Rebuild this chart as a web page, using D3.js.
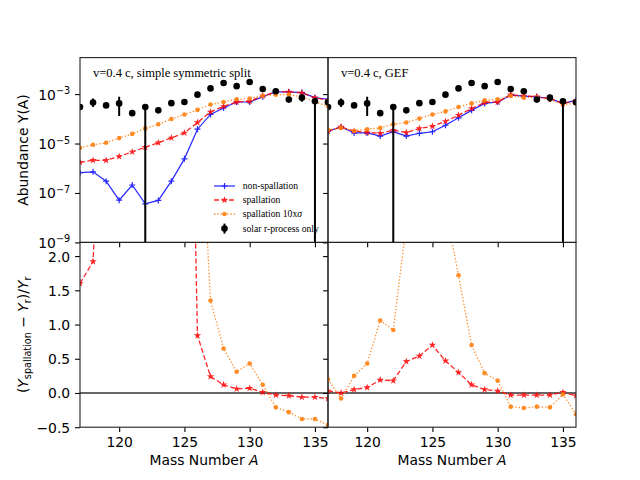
<!DOCTYPE html>
<html>
<head>
<meta charset="utf-8">
<script src="https://cdn.jsdelivr.net/npm/d3@7"></script>
<style>
  body { margin: 0; background: #fff; }
  svg { display: block; }
</style>
</head>
<body>
<svg id="chart" width="640" height="480"></svg>
<script>
/*
 * Abundances around the A=130 peak, with and without spallation,
 * for two fission fragment models.
 */

var massNumbers = [117, 118, 119, 120, 121, 122, 123, 124, 125, 126, 127, 128, 129, 130, 131, 132, 133, 134, 135, 136];

// solar r-process, with the limits of each error bar (0 = bar runs off the bottom)
var solarAbundance = [3.0e-4, 4.6e-4, 3.5e-4, 4.2e-4, 1.7e-4, 3.0e-4, 2.2e-4, 4.3e-4, 4.8e-4, 9.5e-4, 1.7e-3, 2.8e-3, 2.1e-3, 3.1e-3, 1.6e-3, 1.3e-3, 6.0e-4, 7.2e-4, 5.1e-4, 4.7e-4];
var solarLow = [2.7e-4, 3.0e-4, 3.1e-4, 1.3e-4, 1.3e-4, 0, 2.0e-4, 4.0e-4, 4.4e-4, 9.0e-4, 1.6e-3, 2.7e-3, 2.0e-3, 3.0e-3, 1.5e-3, 1.1e-3, 5.6e-4, 4.9e-4, 0, 4.4e-4];
var solarHigh = [3.3e-4, 6.6e-4, 4.0e-4, 7.8e-4, 2.0e-4, 3.6e-4, 2.4e-4, 4.6e-4, 5.2e-4, 1.0e-3, 1.8e-3, 2.9e-3, 2.2e-3, 3.2e-3, 1.7e-3, 1.5e-3, 6.4e-4, 9.5e-4, 6.3e-4, 5.0e-4];

// simple symmetric split
var splitNonSpallation = [6.6e-7, 7.2e-7, 3.0e-7, 5.1e-8, 2.1e-7, 3.6e-8, 5.0e-8, 3.0e-7, 2.4e-6, 3.8e-5, 1.5e-4, 2.75e-4, 4.8e-4, 4.8e-4, 7.8e-4, 1.23e-3, 1.23e-3, 1.15e-3, 7.2e-4, 6.2e-4];
var splitSpallation = [1.74e-6, 2.1e-6, 2.1e-6, 3.0e-6, 4.6e-6, 7.1e-6, 1.07e-5, 1.7e-5, 2.7e-5, 7.1e-5, 1.9e-4, 3.2e-4, 4.8e-4, 5.1e-4, 8.5e-4, 1.23e-3, 1.23e-3, 1.12e-3, 7.1e-4, 5.6e-4];
var splitSpallation10 = [6.8e-6, 8.9e-6, 1.07e-5, 1.66e-5, 2.45e-5, 4.1e-5, 6.0e-5, 9.8e-5, 1.5e-4, 2.3e-4, 3.8e-4, 4.8e-4, 6.2e-4, 6.6e-4, 8.5e-4, 9.5e-4, 9.5e-4, 7.8e-4, 4.8e-4, 3.3e-4];
var splitRatioSpallation = [1.60, 1.92, 5.9, 58, 21, 194, 213, 55, 10.2, 0.84, 0.24, 0.12, 0.06, 0.07, 0.01, -0.03, -0.04, -0.06, -0.06, -0.08];
var splitRatioSpallation10 = [9.2, 11.3, 34, 323, 116, 1121, 1201, 323, 62, 5.0, 1.35, 0.65, 0.31, 0.43, 0.12, -0.21, -0.28, -0.38, -0.38, -0.47];

// GEF
var gefNonSpallation = [3.2e-5, 4.7e-5, 2.7e-5, 2.7e-5, 2.0e-5, 3.0e-5, 2.0e-5, 2.6e-5, 3.0e-5, 5.5e-5, 1.1e-4, 2.2e-4, 4.2e-4, 4.8e-4, 9.1e-4, 8.3e-4, 7.8e-4, 6.6e-4, 4.2e-4, 5.6e-4];
var gefSpallation = [3.2e-5, 4.7e-5, 3.2e-5, 2.8e-5, 2.6e-5, 3.5e-5, 2.8e-5, 4.1e-5, 5.0e-5, 7.9e-5, 1.4e-4, 2.6e-4, 4.6e-4, 4.8e-4, 9.5e-4, 8.5e-4, 7.8e-4, 6.6e-4, 4.2e-4, 5.4e-4];
var gefSpallation10 = [3.6e-5, 4.3e-5, 3.2e-5, 3.8e-5, 4.3e-5, 6.0e-5, 7.1e-5, 1.02e-4, 1.5e-4, 2.0e-4, 3.0e-4, 4.2e-4, 5.6e-4, 6.2e-4, 8.5e-4, 7.2e-4, 7.2e-4, 6.0e-4, 3.8e-4, 4.2e-4];
var gefRatioSpallation = [0.03, 0.00, 0.05, 0.08, 0.19, 0.18, 0.46, 0.54, 0.70, 0.47, 0.30, 0.12, 0.05, 0.03, -0.03, -0.03, -0.03, -0.03, 0.01, -0.04];
var gefRatioSpallation10 = [0.20, -0.08, 0.25, 0.43, 1.06, 0.92, 2.47, 2.9, 4.1, 2.7, 1.72, 0.70, 0.29, 0.18, -0.20, -0.22, -0.20, -0.21, -0.02, -0.31];

var massTicks = [120, 125, 130, 135];
var abundanceTicks = [1e-9, 1e-7, 1e-5, 1e-3];
var ratioTicks = [-0.5, 0.0, 0.5, 1.0, 1.5, 2.0];
var panelTitles = ['v=0.4 c, simple symmetric split', 'v=0.4 c, GEF'];
var legendLabels = ['non-spallation', 'spallation', 'spallation 10x', 'solar r-process only'];

var styles = {
  non: {color: '#0000ff', width: 1.2, dash: null, marker: 'plus', opacity: 0.85},
  spall: {color: '#ff0000', width: 1.3, dash: '5,2.5', marker: 'star', opacity: 0.85},
  spall10: {color: '#ff7f0e', width: 1.3, dash: '1.3,2', marker: 'dot', opacity: 0.9}
};

var TICK_FONT = '"DejaVu Sans", sans-serif';
var SERIF = '"Liberation Serif", "Times New Roman", serif';

function drawMarker(g, type, cx, cy, color) {
  'use strict';
  if (type === 'plus') {
    g.append('path')
      .attr('d', 'M' + (cx - 3) + ',' + cy + 'H' + (cx + 3) + 'M' + cx + ',' + (cy - 3) + 'V' + (cy + 3))
      .attr('stroke', color).attr('stroke-width', 1.2).attr('fill', 'none');
  } else if (type === 'star') {
    g.append('path')
      .attr('d', d3.symbol().type(d3.symbolStar).size(17)())
      .attr('transform', 'translate(' + cx + ',' + cy + ')')
      .attr('fill', color);
  } else {
    g.append('circle').attr('cx', cx).attr('cy', cy).attr('r', 2.3).attr('fill', color);
  }
}

function drawSeries(g, values, x, y, style) {
  /* Line plus markers for one series. */
  'use strict';
  var pts = massNumbers.map(function(a, i) { return [a, values[i]]; });
  var line = d3.line()
    .x(function(d) { return x(d[0]); })
    .y(function(d) { return y(d[1]); });
  var s = g.append('g').attr('opacity', style.opacity);
  s.append('path')
    .datum(pts)
    .attr('d', line)
    .attr('fill', 'none')
    .attr('stroke', style.color)
    .attr('stroke-width', style.width)
    .attr('stroke-dasharray', style.dash);
  pts.forEach(function(d) {
    drawMarker(s, style.marker, x(d[0]), y(d[1]), style.color);
  });
}

function styleAxis(ax) {
  ax.select('.domain').remove();
  ax.attr('font-family', TICK_FONT).attr('font-size', 13.9).attr('color', '#000');
  ax.selectAll('.tick line').attr('stroke-width', 1.1);
}

function makePanel(svg, px, py, w, h, id) {
  var g = svg.append('g').attr('transform', 'translate(' + px + ',' + py + ')');
  svg.append('clipPath').attr('id', id)
    .append('rect').attr('width', w).attr('height', h);
  var plot = g.append('g').attr('clip-path', 'url(#' + id + ')');
  return {g: g, plot: plot};
}

function render() {
  'use strict';
  var svg = d3.select('#chart');
  var width = +svg.attr('width'), height = +svg.attr('height');
  var margin = {top: 57.6, right: 64, bottom: 52.8, left: 80};
  var panelW = (width - margin.left - margin.right) / 2;
  var panelH = (height - margin.top - margin.bottom) / 2;

  var x = d3.scaleLinear().domain([117, 136]).range([0, panelW]);
  var yTop = d3.scaleLog().domain([1e-9, 3e-2]).range([panelH, 0]);
  var yBot = d3.scaleLinear().domain([-0.5, 2.2]).range([panelH, 0]);

  svg.append('rect').attr('width', width).attr('height', height).attr('fill', '#fff');

  var models = [
    {non: splitNonSpallation, spall: splitSpallation, spall10: splitSpallation10,
     rSpall: splitRatioSpallation, rSpall10: splitRatioSpallation10},
    {non: gefNonSpallation, spall: gefSpallation, spall10: gefSpallation10,
     rSpall: gefRatioSpallation, rSpall10: gefRatioSpallation10}
  ];

  models.forEach(function(m, col) {
    var px = margin.left + col * panelW;

    // ---- top: abundances ----
    var top = makePanel(svg, px, margin.top, panelW, panelH, 'clipTop' + col);

    if (col === 0) {
      // legend, no frame
      var lg = top.g.append('g');
      var rows = [128.4, 142.4, 156.4, 171];
      [styles.non, styles.spall, styles.spall10].forEach(function(st, i) {
        var r = lg.append('g').attr('opacity', st.opacity);
        r.append('line')
          .attr('x1', 134).attr('x2', 155).attr('y1', rows[i]).attr('y2', rows[i])
          .attr('stroke', st.color).attr('stroke-width', st.width)
          .attr('stroke-dasharray', st.dash);
        drawMarker(r, st.marker, 144.5, rows[i], st.color);
      });
      lg.append('line')
        .attr('x1', 144.5).attr('x2', 144.5).attr('y1', rows[3] - 5).attr('y2', rows[3] + 5)
        .attr('stroke', '#000').attr('stroke-width', 2);
      lg.append('circle').attr('cx', 144.5).attr('cy', rows[3]).attr('r', 3.3).attr('fill', '#000');
      legendLabels.forEach(function(lab, i) {
        var t = lg.append('text')
          .attr('x', 162.7).attr('y', rows[i] + 3.3)
          .attr('font-family', SERIF).attr('font-size', 9.7)
          .text(lab);
        if (i === 2) {
          t.append('tspan').attr('font-style', 'italic').text('σ');
        }
      });
    }

    drawSeries(top.plot, m.non, x, yTop, styles.non);
    drawSeries(top.plot, m.spall, x, yTop, styles.spall);
    drawSeries(top.plot, m.spall10, x, yTop, styles.spall10);

    // solar points and error bars
    massNumbers.forEach(function(a, i) {
      var lo = solarLow[i] > 0 ? yTop(solarLow[i]) : panelH + 20;
      top.plot.append('line')
        .attr('x1', x(a)).attr('x2', x(a))
        .attr('y1', yTop(solarHigh[i])).attr('y2', lo)
        .attr('stroke', '#000').attr('stroke-width', 2);
      top.plot.append('circle')
        .attr('cx', x(a)).attr('cy', yTop(solarAbundance[i]))
        .attr('r', 3.3).attr('fill', '#000');
    });

    top.g.append('text')
      .attr('x', 13).attr('y', 19.5)
      .attr('font-family', SERIF).attr('font-size', 12.5)
      .text(panelTitles[col]);

    var ayTop = top.g.append('g')
      .call(d3.axisLeft(yTop).tickValues(abundanceTicks).tickSize(4.9).tickPadding(4.9)
        .tickFormat(function() { return ''; }));
    styleAxis(ayTop);
    if (col === 0) {
      ayTop.selectAll('.tick text').each(function(d) {
        var t = d3.select(this).attr('dy', null).attr('y', 5);
        t.append('tspan').text('10');
        t.append('tspan').attr('font-size', 9.7).attr('dy', -5.5)
          .text('\u2212' + Math.round(-Math.log10(d)));
      });
    }
    var axTop = top.g.append('g')
      .attr('transform', 'translate(0,' + panelH + ')')
      .call(d3.axisBottom(x).tickValues(massTicks).tickSize(4.9).tickFormat(function() { return ''; }));
    styleAxis(axTop);

    top.g.append('rect').attr('width', panelW).attr('height', panelH)
      .attr('fill', 'none').attr('stroke', '#222').attr('stroke-width', 1.1);

    // ---- bottom: relative change ----
    var bot = makePanel(svg, px, margin.top + panelH, panelW, panelH, 'clipBot' + col);

    bot.plot.append('line')
      .attr('x1', 0).attr('x2', panelW).attr('y1', yBot(0)).attr('y2', yBot(0))
      .attr('stroke', '#333').attr('stroke-width', 1.5);
    drawSeries(bot.plot, m.rSpall, x, yBot, styles.spall);
    drawSeries(bot.plot, m.rSpall10, x, yBot, styles.spall10);

    var ayBot = bot.g.append('g')
      .call(d3.axisLeft(yBot).tickValues(ratioTicks).tickSize(4.9).tickPadding(4.9)
        .tickFormat(col === 0 ? d3.format('.1f') : function() { return ''; }));
    styleAxis(ayBot);
    ayBot.selectAll('.tick text').attr('dy', null).attr('y', 5);

    var axBot = bot.g.append('g')
      .attr('transform', 'translate(0,' + panelH + ')')
      .call(d3.axisBottom(x).tickValues(massTicks).tickSize(4.9).tickPadding(4.9).tickFormat(d3.format('d')));
    styleAxis(axBot);

    bot.g.append('rect').attr('width', panelW).attr('height', panelH)
      .attr('fill', 'none').attr('stroke', '#222').attr('stroke-width', 1.1);

    var xl = bot.g.append('text')
      .attr('x', panelW / 2).attr('y', panelH + 37.8)
      .attr('text-anchor', 'middle')
      .attr('font-family', TICK_FONT).attr('font-size', 13.9)
      .text('Mass Number ');
    xl.append('tspan').attr('font-style', 'italic').text('A');
  });

  // y labels
  svg.append('text')
    .attr('transform', 'translate(28,' + (margin.top + panelH / 2) + ') rotate(-90)')
    .attr('text-anchor', 'middle')
    .attr('font-family', TICK_FONT).attr('font-size', 13.9)
    .text('Abundance Y(A)');

  var yl = svg.append('text')
    .attr('transform', 'translate(28,' + (margin.top + panelH * 1.5) + ') rotate(-90)')
    .attr('text-anchor', 'middle')
    .attr('font-family', TICK_FONT).attr('font-size', 13.9);
  yl.append('tspan').text('(');
  yl.append('tspan').attr('font-style', 'italic').text('Y');
  yl.append('tspan').attr('font-size', 9.7).attr('dy', 3).text('spallation');
  yl.append('tspan').attr('dy', -3).text(' \u2212 ');
  yl.append('tspan').attr('font-style', 'italic').text('Y');
  yl.append('tspan').attr('font-size', 9.7).attr('dy', 3).text('r');
  yl.append('tspan').attr('dy', -3).text(')/');
  yl.append('tspan').attr('font-style', 'italic').text('Y');
  yl.append('tspan').attr('font-size', 9.7).attr('dy', 3).text('r');
}

render();
</script>
</body>
</html>
